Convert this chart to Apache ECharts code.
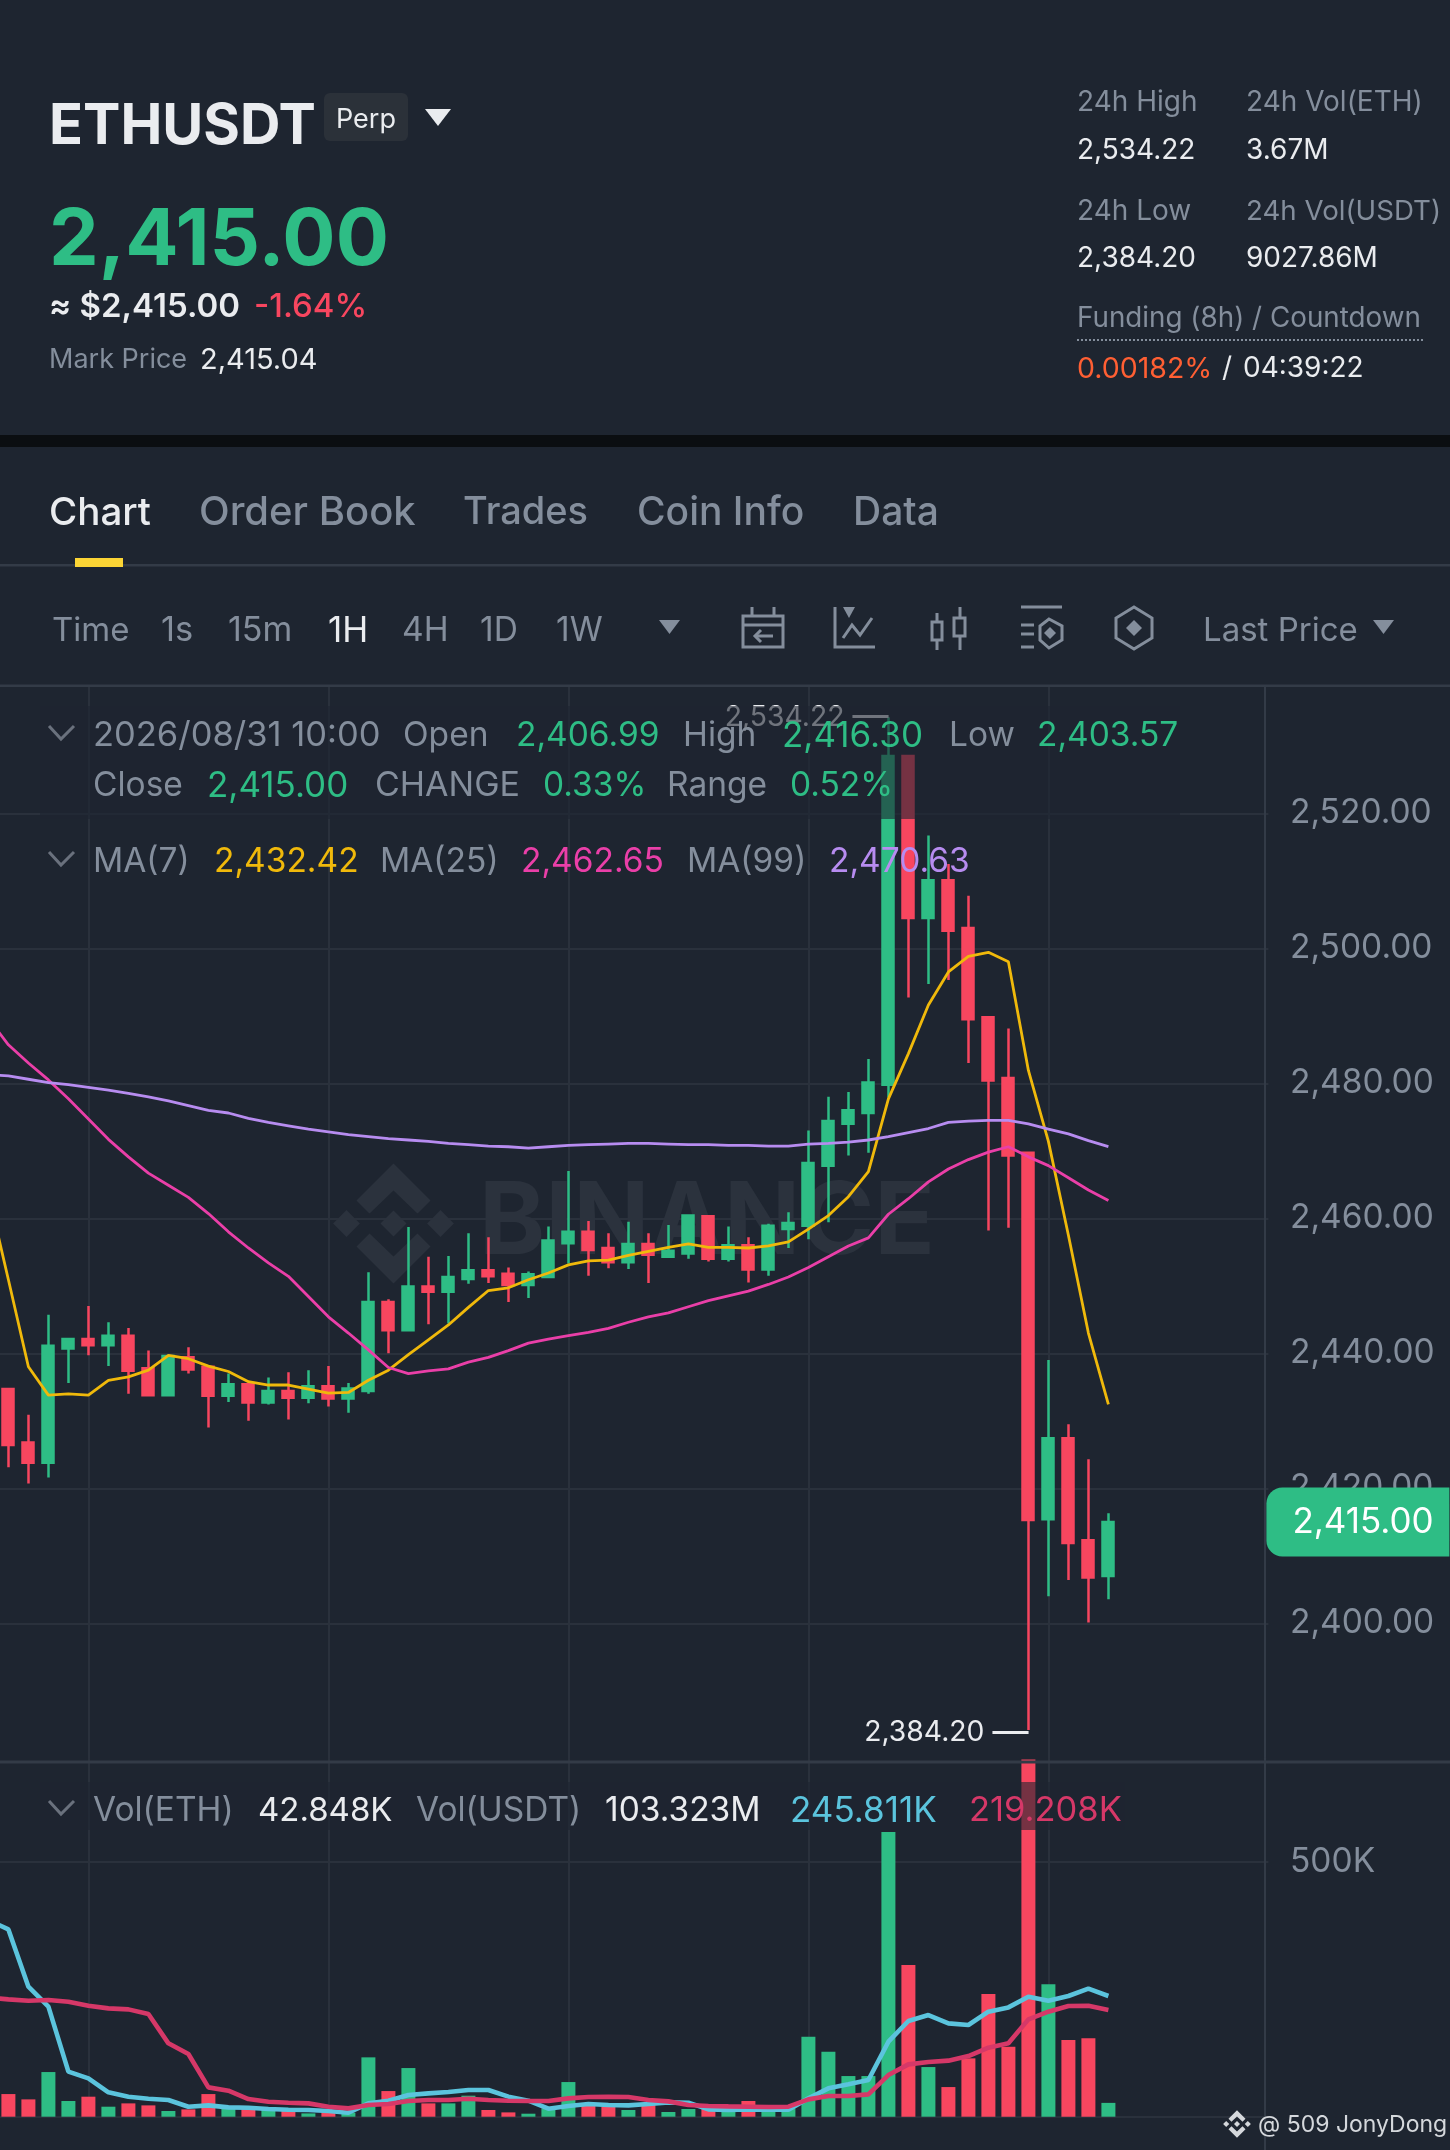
<!DOCTYPE html>
<html><head><meta charset="utf-8">
<style>html,body{margin:0;padding:0;background:#1e2530}#c{width:1450px;height:2150px}</style>
<script src="https://cdn.jsdelivr.net/npm/echarts@6/dist/echarts.min.js"></script>
</head><body><div id="c"></div>
<script>
const opens=[2434.7,2426.8,2423.8,2440.7,2442.1,2441.2,2442.6,2437.8,2433.8,2439.4,2438.0,2433.7,2435.4,2432.7,2434.4,2433.4,2435.1,2433.3,2434.4,2447.6,2443.4,2449.9,2449.1,2451.0,2452.3,2451.8,2450.1,2451.3,2456.3,2458.0,2455.6,2453.5,2456.2,2454.3,2454.8,2460.3,2454.0,2456.0,2452.4,2458.4,2458.9,2467.8,2474.0,2475.6,2479.8,2528.5,2504.5,2510.1,2503.0,2489.8,2480.8,2469.7,2415.4,2427.4,2412.3,2406.99];
const closes=[2426.4,2423.8,2441.1,2442.1,2441.2,2442.6,2437.4,2433.8,2439.6,2437.6,2433.7,2435.4,2432.7,2434.4,2433.4,2435.1,2433.3,2434.8,2447.6,2443.4,2449.9,2449.1,2451.3,2452.3,2451.4,2450.1,2451.7,2456.7,2458.0,2455.3,2453.5,2456.2,2454.6,2455.2,2460.4,2454.0,2456.0,2452.4,2458.9,2459.3,2468.2,2474.4,2476.0,2480.1,2528.5,2504.5,2510.1,2502.6,2489.5,2480.4,2469.3,2415.3,2427.4,2411.9,2406.8,2415.00];
const lows=[2423.1,2420.7,2421.6,2435.6,2439.7,2438.1,2434.0,2433.6,2433.6,2437.0,2429.0,2432.8,2430.0,2432.4,2430.2,2432.6,2432.1,2431.2,2434.0,2440.0,2443.4,2444.3,2444.4,2450.3,2450.4,2447.6,2448.2,2451.3,2453.3,2451.5,2452.6,2452.5,2450.4,2454.1,2454.0,2453.6,2453.6,2450.5,2451.5,2455.6,2456.9,2459.4,2469.3,2469.7,2477.9,2492.7,2494.7,2495.3,2483.0,2458.2,2458.6,2384.20,2404.0,2406.4,2400.1,2403.57];
const highs=[2434.8,2430.9,2445.7,2442.1,2447.0,2444.6,2443.75,2440.4,2439.8,2440.9,2438.0,2437.0,2435.4,2436.4,2437.2,2437.5,2438.1,2435.6,2452.0,2448.0,2458.7,2454.3,2454.4,2457.8,2457.2,2452.7,2452.1,2458.8,2467.0,2459.6,2457.8,2459.5,2457.8,2459.0,2460.5,2460.3,2458.8,2457.2,2459.2,2460.9,2473.0,2478.0,2478.7,2483.6,2534.22,2528.5,2516.7,2512.5,2507.8,2489.8,2488.1,2469.7,2439.0,2429.5,2424.3,2416.30];
// first value of each line belongs to the bar just left of the picture
const ma7=[2463.7,2450.9,2438.0,2433.8,2434.0,2433.8,2436.0,2436.5,2437.5,2439.7,2439.2,2438.1,2437.3,2435.8,2435.3,2435.3,2434.7,2434.1,2434.2,2436.0,2437.5,2439.8,2442.0,2444.2,2446.8,2449.3,2449.7,2450.9,2451.9,2453.1,2453.7,2453.8,2454.5,2455.1,2455.7,2456.2,2455.7,2455.7,2455.6,2455.9,2456.5,2458.4,2460.4,2463.2,2466.9,2477.7,2484.4,2491.6,2496.5,2498.8,2499.4,2498.0,2481.9,2471.4,2457.5,2443.0,2432.42];
const ma25=[2489.6,2485.7,2483.0,2480.5,2477.7,2474.7,2471.7,2469.1,2466.7,2464.9,2463.1,2460.7,2458.0,2455.6,2453.4,2451.4,2448.4,2445.4,2443.0,2440.5,2437.9,2437.0,2437.4,2437.7,2438.7,2439.4,2440.4,2441.5,2442.1,2442.6,2443.1,2443.7,2444.6,2445.4,2446.0,2446.9,2447.8,2448.5,2449.2,2450.2,2451.3,2452.7,2454.3,2455.9,2457.1,2460.6,2462.9,2465.4,2467.3,2468.7,2469.8,2470.6,2469.1,2467.8,2466.0,2464.2,2462.65];
const ma99=[2481.3,2481.1,2480.6,2480.1,2479.8,2479.4,2479.0,2478.5,2478.0,2477.4,2476.7,2476.0,2475.6,2474.8,2474.2,2473.7,2473.2,2472.8,2472.4,2472.1,2471.8,2471.6,2471.4,2471.1,2470.9,2470.7,2470.6,2470.4,2470.6,2470.8,2470.9,2471.0,2471.1,2471.1,2471.0,2470.9,2470.9,2470.8,2470.8,2470.7,2470.7,2471.0,2471.1,2471.3,2471.6,2472.1,2472.7,2473.3,2474.2,2474.4,2474.5,2474.5,2474.0,2473.2,2472.5,2471.5,2470.63];
const volumes=[59.6,49.5,101.4,46.4,54.6,35.6,41.9,38.1,27.4,30.5,59.6,35.6,32.4,30.5,28,22.9,26.1,24.2,129.3,65.3,109,41.9,41.9,56.5,29.3,24.8,22.3,32.4,82.4,38.8,35.6,29.3,38.8,25.5,31.2,32.4,29.3,46.4,32.4,32.4,168.5,140,93.8,93.8,557,304.6,110.9,72.9,127.4,249.5,149.5,695,267.9,162.2,165.4,42.848];
const volMaBlue=[390.1,372.3,263.5,225.5,102.1,89.4,62.8,54.6,50.8,48.3,35.6,38.1,34.3,33.7,31.2,29.9,29.3,27.4,24.2,41.9,47,57.7,60.9,63.4,67.2,67.2,54.6,47,31.8,36.9,40.7,38.8,38.1,40.7,43.8,43.2,30.5,29.3,30.5,29.9,29.9,51.4,70.4,78,86.2,159,198.3,209.7,193.8,190.7,216,224.2,244.5,236.9,245.8,259.7,245.811];
const volMaRed=[242.6,239.4,236.9,238.2,235,227.4,222.3,220.4,211.6,155.9,135.6,72.3,66,50.1,45.1,43.2,41.9,35.6,32.4,38.8,40.7,46.4,48.3,48.3,50.8,48.3,47,46.4,46.4,51.4,53.9,54.6,53.9,48.3,45.7,38.8,36.9,36.2,35.6,35,35.6,49.5,55.8,55.8,59,95.7,116,120.4,123,131.8,147.6,155.9,201.4,216,226.8,227.4,219.208];
const barSlots=Array.from({length:65},(_,i)=>String(i));
const priceTickValues=[2400,2420,2440,2460,2480,2500,2520];
const volTickValues=[500];
const priceRange={min:2379.45,max:2538.86};
const volRange={min:16.6,max:697};

const BG='#1e2530',GREEN='#2ebd85',RED='#f8465f',GREY='#848e9c',WHITE='#eaecef',GRID='#2a313c',LINE='#333b47';
const FONT='Inter';
const padLine=a=>a.concat(Array(65-a.length).fill(null));
const candleData=[null].concat(opens.map((o,i)=>[o,closes[i],lows[i],highs[i]]),Array(8).fill(null)).map(d=>d===null?'-':d);
const volData=[null].concat(volumes.map((v,i)=>({value:v,itemStyle:{color:closes[i]>=opens[i]?GREEN:RED}})),Array(8).fill(null)).map(d=>d===null?'-':d);
const T=(text,x,y,fill,size,opt={})=>({type:'text',z:opt.z||100,silent:true,style:{text,x,y,fill,fontFamily:FONT,fontSize:size,fontWeight:opt.w||400,textAlign:opt.a||'left',textVerticalAlign:'middle',opacity:opt.o==null?1:opt.o}});
const P=(points,fill,stroke,z=100,lw=3)=>({type:'polygon',z,silent:true,shape:{points},style:{fill:fill||'transparent',stroke:stroke||null,lineWidth:lw}});
const L=(points,stroke=GREY,lw=3,z=100)=>({type:'polyline',z,silent:true,shape:{points},style:{stroke,lineWidth:lw,fill:null}});
const R=(x,y,width,height,fill,z=100,r=0)=>({type:'rect',z,silent:true,shape:{x,y,width,height,r},style:{fill}});
const RS=(x,y,width,height,stroke=GREY,lw=3)=>({type:'rect',z:100,silent:true,shape:{x,y,width,height},style:{fill:'transparent',stroke,lineWidth:lw}});
const chev=(x,y)=>L([[x,y-7],[x+12,y+6],[x+25,y-7]],'#6a717d',3);
function logo(cx,cy,s,fill,z){
  const d=(x,y,r)=>P([[x,y-r],[x+r,y],[x,y+r],[x-r,y]],fill,null,z);
  return {type:'group',x:cx,y:cy,scaleX:s,scaleY:s,z,silent:true,children:[
    d(0,0,13),d(-47,0,13.4),d(47,0,13.4),
    P([[0,-60],[37,-23],[24,-10],[0,-33],[-24,-10],[-37,-23]],fill,null,z),
    P([[0,60],[37,23],[24,10],[0,33],[-24,10],[-37,23]],fill,null,z)]};
}
const graphics=[
  R(0,435,1450,12,'#0b0e11',5),
  R(0,564,1450,2.5,LINE,5),R(75,558,48,9,'#fcd535',6),
  R(0,684.5,1450,2.5,LINE,5),
  T('ETHUSDT',49,127,WHITE,56,{w:700}),
  R(324,93,84,48,'#2b3139',100,6),T('Perp',366,120,WHITE,27,{a:'center'}),
  P([[425,109],[451,109],[438,126]],WHITE),
  T('2,415.00',49,241,GREEN,79,{w:700}),
  T('≈ $2,415.00',49,307,WHITE,33,{w:600}),T('-1.64%',254,307,RED,33,{w:500}),
  T('Mark Price',49,360,GREY,27),T('2,415.04',200,360,WHITE,29),
  T('24h High',1077,103,GREY,28),T('24h Vol(ETH)',1246,103,GREY,28),
  T('2,534.22',1077,151,WHITE,28),T('3.67M',1246,151,WHITE,28),
  T('24h Low',1077,212,GREY,28),T('24h Vol(USDT)',1246,212,GREY,27.7),
  T('2,384.20',1077,259,WHITE,28),T('9027.86M',1246,259,WHITE,28),
  T('Funding (8h) / Countdown',1077,319,GREY,27.8),
  {type:'line',z:100,silent:true,shape:{x1:1077,y1:340,x2:1423,y2:340},style:{stroke:GREY,lineWidth:2,lineDash:[2,2]}},
  T('0.00182%',1077,369,'#ff5f33',28.5),T('/',1222,369,WHITE,28),T('04:39:22',1243,369,WHITE,28),
  T('Chart',49,513,WHITE,38.5,{w:500}),T('Order Book',199,513,GREY,40,{w:500}),T('Trades',463,513,GREY,38,{w:500}),T('Coin Info',637,513,GREY,39,{w:500}),T('Data',853,513,GREY,39,{w:500}),
  T('Time',52,631,GREY,33),T('1s',161,631,GREY,34.5),T('15m',228,631,GREY,34),T('1H',328,631,WHITE,35),T('4H',402,631,GREY,33.5),T('1D',480,631,GREY,33.5),T('1W',556,631,GREY,33.5),
  P([[659,620],[680,620],[669.5,634]],GREY),
  RS(743,616,40,31),L([[743,625],[783,625]]),L([[752,607],[752,616]]),L([[774,607],[774,616]]),L([[773,636],[755,636]]),L([[761,630],[755,636],[761,642]]),
  L([[835,607],[835,647],[875,647]]),L([[843,638],[852,625],[860,635],[872,618]]),P([[843,607],[855,607],[849,618]],GREY),
  RS(932,622,10,18),RS(954,618,11,18),L([[937,613],[937,622]]),L([[937,640],[937,650]]),L([[960,607],[960,618]]),L([[960,636],[960,650]]),
  L([[1021,607],[1062,607]]),L([[1021,625],[1034,625]]),L([[1021,634],[1034,634]]),L([[1021,647],[1034,647]]),
  P([[1049,619],[1062,626],[1062,640],[1049,648],[1040,640],[1040,626]],null,GREY),P([[1050,627],[1056,633],[1050,639],[1044,633]],GREY),
  P([[1134,607],[1152,618],[1152,638],[1134,649],[1116,638],[1116,618]],null,GREY),P([[1134,620],[1142,628],[1134,636],[1126,628]],GREY),
  T('Last Price',1203,631,GREY,33),P([[1373,620],[1394,620],[1383.5,634]],GREY),
  logo(393.5,1223.5,1,'#2b323d',1),
  {type:'text',z:1,silent:true,style:{text:'BINANCE',x:479,y:1224,fill:'#2b323d',fontFamily:FONT,fontSize:100,fontWeight:700,textVerticalAlign:'middle'}},
  R(40,706,1140,113,'rgba(30,37,48,0.6)',90),
  R(40,1782,1085,48,'rgba(30,37,48,0.6)',90),
  chev(49,733),
  T('2026/08/31 10:00',93,736,GREY,34.5),T('Open',403,736,GREY,33.5),T('2,406.99',516,736,GREEN,33.5),T('High',683,736,GREY,33.5),T('2,416.30',782,736,GREEN,35),T('Low',949,736,GREY,33.5),T('2,403.57',1037,736,GREEN,33.5),
  T('Close',93,786,GREY,33.5),T('2,415.00',207,786,GREEN,35),T('CHANGE',375,786,GREY,34),T('0.33%',543,786,GREEN,33.5),T('Range',667,786,GREY,33.5),T('0.52%',790,786,GREEN,33.5),
  chev(49,859),
  T('MA(7)',93,862,GREY,33.5),T('2,432.42',214,862,'#f0b90b',33.5),T('MA(25)',380,862,GREY,33.5),T('2,462.65',521,862,'#ea3fa8',33.5),T('MA(99)',687,862,GREY,33.5),T('2,470.63',829,862,'#b78cf0',33.5),
  chev(49,1808),
  T('Vol(ETH)',93,1811,GREY,33.5),T('42.848K',258,1811,WHITE,33),T('Vol(USDT)',416,1811,GREY,33.5),T('103.323M',605,1811,WHITE,33.5),T('245.811K',790,1811,'#5bc4dd',35),T('219.208K',969,1811,'#d63868',34.5),
  R(0,1760.5,1450,3,LINE,50),
  R(0,2116,1265,2,GRID,1),
  R(1264,1762,2,388,LINE,50),
  logo(1237,2124,0.23,'#d5d8dc',100),
  T('@ 509 JonyDong',1258,2125,'#d5d8dc',23),
];
const xAxisBase=()=>({type:'category',data:barSlots,boundaryGap:false,axisLine:{show:false},axisTick:{show:false},axisLabel:{show:false},
  splitLine:{show:true,interval:i=>(i-5)%12===0&&i>0,lineStyle:{color:GRID,width:2}}});
const yAxisBase=(r,ticks,fmt)=>({type:'value',position:'right',offset:-3.4,min:r.min,max:r.max,
  axisLine:{show:true,lineStyle:{color:LINE,width:2}},axisTick:{show:false,customValues:ticks},
  splitLine:{show:true,lineStyle:{color:GRID,width:2}},
  axisLabel:{customValues:ticks,margin:25,color:GREY,fontFamily:FONT,fontSize:33.5,formatter:fmt}});
const mark=(v,idx,text,extra)=>({coord:[idx,v],symbolSize:0,label:Object.assign({show:true,formatter:text},extra)});
const hiLo={position:'left',distance:0,color:WHITE,fontFamily:FONT,fontSize:28.3,rich:{t:{color:WHITE,fontFamily:FONT,fontSize:28.3},d:{color:WHITE,fontFamily:FONT,fontSize:36}}};
const outer={outerBoundsMode:'none'};
const option={
  backgroundColor:BG,animation:false,
  grid:[Object.assign({left:-11.6,width:1280,top:686,height:1762-686},outer),Object.assign({left:-11.6,width:1280,top:1758.4,height:2116.7-1758.4},outer)],
  xAxis:[Object.assign(xAxisBase(),{gridIndex:0}),Object.assign(xAxisBase(),{gridIndex:1})],
  yAxis:[
    Object.assign(yAxisBase(priceRange,priceTickValues,v=>v.toLocaleString('en-US',{minimumFractionDigits:2,maximumFractionDigits:2})),{gridIndex:0}),
    Object.assign(yAxisBase(volRange,volTickValues,v=>v+'K'),{gridIndex:1}),
  ],
  series:[
    {type:'candlestick',xAxisIndex:0,yAxisIndex:0,data:candleData,barWidth:11.5,z:3,clip:false,
      itemStyle:{color:GREEN,color0:RED,borderColor:GREEN,borderColor0:RED,borderWidth:2.5},
      markPoint:{silent:true,z:80,animation:false,data:[
        mark(2415,'56','2,415.00',{position:'right',distance:0,offset:[158,0],color:'#fff',fontFamily:FONT,fontSize:35,backgroundColor:GREEN,borderRadius:[16,0,0,16],width:157,height:69,lineHeight:69,padding:[0,0,0,26],align:'left'}),
        mark(2534.22,'45','{t|2,534.22} {d|—}',hiLo),
        mark(2384.20,'52','{t|2,384.20} {d|—}',Object.assign({},hiLo,{offset:[0,3]})),
      ]}},
    {type:'line',name:'MA7',xAxisIndex:0,yAxisIndex:0,data:padLine(ma7),showSymbol:false,z:4,lineStyle:{color:'#f0b90b',width:2.8}},
    {type:'line',name:'MA25',xAxisIndex:0,yAxisIndex:0,data:padLine(ma25),showSymbol:false,z:4,lineStyle:{color:'#ea3fa8',width:2.8}},
    {type:'line',name:'MA99',xAxisIndex:0,yAxisIndex:0,data:padLine(ma99),showSymbol:false,z:4,lineStyle:{color:'#b78cf0',width:2.8}},
    {type:'bar',xAxisIndex:1,yAxisIndex:1,data:volData,barWidth:14,z:3},
    {type:'line',xAxisIndex:1,yAxisIndex:1,data:padLine(volMaBlue),showSymbol:false,z:4,lineStyle:{color:'#5bc4dd',width:4.6}},
    {type:'line',xAxisIndex:1,yAxisIndex:1,data:padLine(volMaRed),showSymbol:false,z:5,lineStyle:{color:'#d63868',width:4.6}},
  ],
  graphic:{elements:graphics}
};
const chart=echarts.init(document.getElementById('c'),null,{width:1450,height:2150});
chart.setOption(option);
</script></body></html>
